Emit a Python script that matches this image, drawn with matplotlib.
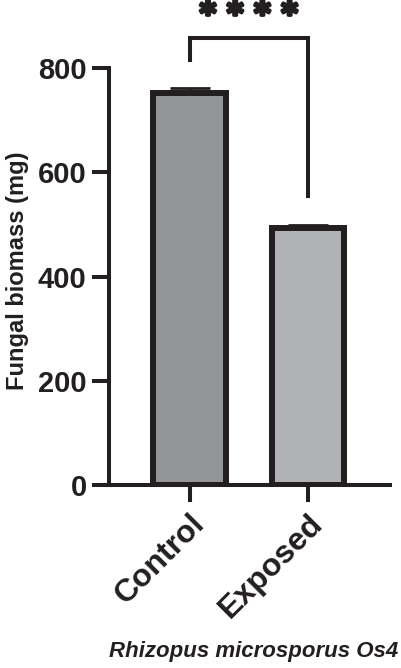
import numpy as np
import matplotlib
matplotlib.use("Agg")
import matplotlib.pyplot as plt
import matplotlib.patheffects as pe

plt.rcParams['font.family'] = ['Liberation Sans', 'DejaVu Sans']
plt.rcParams['font.weight'] = 'bold'

groups = ['Control', 'Exposed']
biomass = [752, 494]
err = [10, 5]
fills = ['#939598', '#b1b2b5']
edge = '#231f20'

fig = plt.figure(figsize=(4.02, 6.68), dpi=100)
ax = fig.add_axes([0.271, 0.274, 0.699, 0.624])

x = np.arange(len(groups))
ax.bar(x, biomass, width=0.61, color=fills, edgecolor=edge, linewidth=4.3, zorder=2)
ax.errorbar(x, biomass, yerr=[[0, 0], err], fmt='none', ecolor=edge,
            elinewidth=2, capsize=14.4, capthick=2, zorder=1)

ax.set_xlim(-0.68, 1.69)
ax.set_ylim(0, 800)
ax.set_yticks([0, 200, 400, 600, 800])
ax.set_xticks(x)
ax.set_xticklabels(groups, rotation=45, ha='right', rotation_mode='anchor')
ax.tick_params(axis='y', labelsize=21, width=2.9, length=12, color=edge, pad=4)
ax.tick_params(axis='x', labelsize=23, width=2.9, length=12, color=edge, pad=5)
for lab in ax.get_xticklabels() + ax.get_yticklabels():
    lab.set_fontweight('bold')
    lab.set_color(edge)
for s in ['top', 'right']:
    ax.spines[s].set_visible(False)
for s in ['left', 'bottom']:
    ax.spines[s].set_linewidth(2.9)
    ax.spines[s].set_color(edge)

ax.set_ylabel('Fungal biomass (mg)', fontsize=17, fontweight='bold', color=edge)
ax.yaxis.set_label_coords(-0.283, 0.515)

# significance bracket
ax.plot([0, 0, 1, 1], [811, 857, 857, 550], color=edge, lw=2.9, clip_on=False,
        solid_capstyle='butt', solid_joinstyle='miter')
ax.text(0.5, 885, '* * * *', ha='center', va='baseline', fontsize=22.5,
        fontweight='bold', color=edge, family='DejaVu Sans',
        path_effects=[pe.withStroke(linewidth=2.5, foreground=edge)])

fig.text(0.99, 0.025, 'Rhizopus microsporus Os4', ha='right', va='center', fontsize=16,
         fontweight='bold', style='italic', color=edge)

fig.savefig('out.png', dpi=100)
